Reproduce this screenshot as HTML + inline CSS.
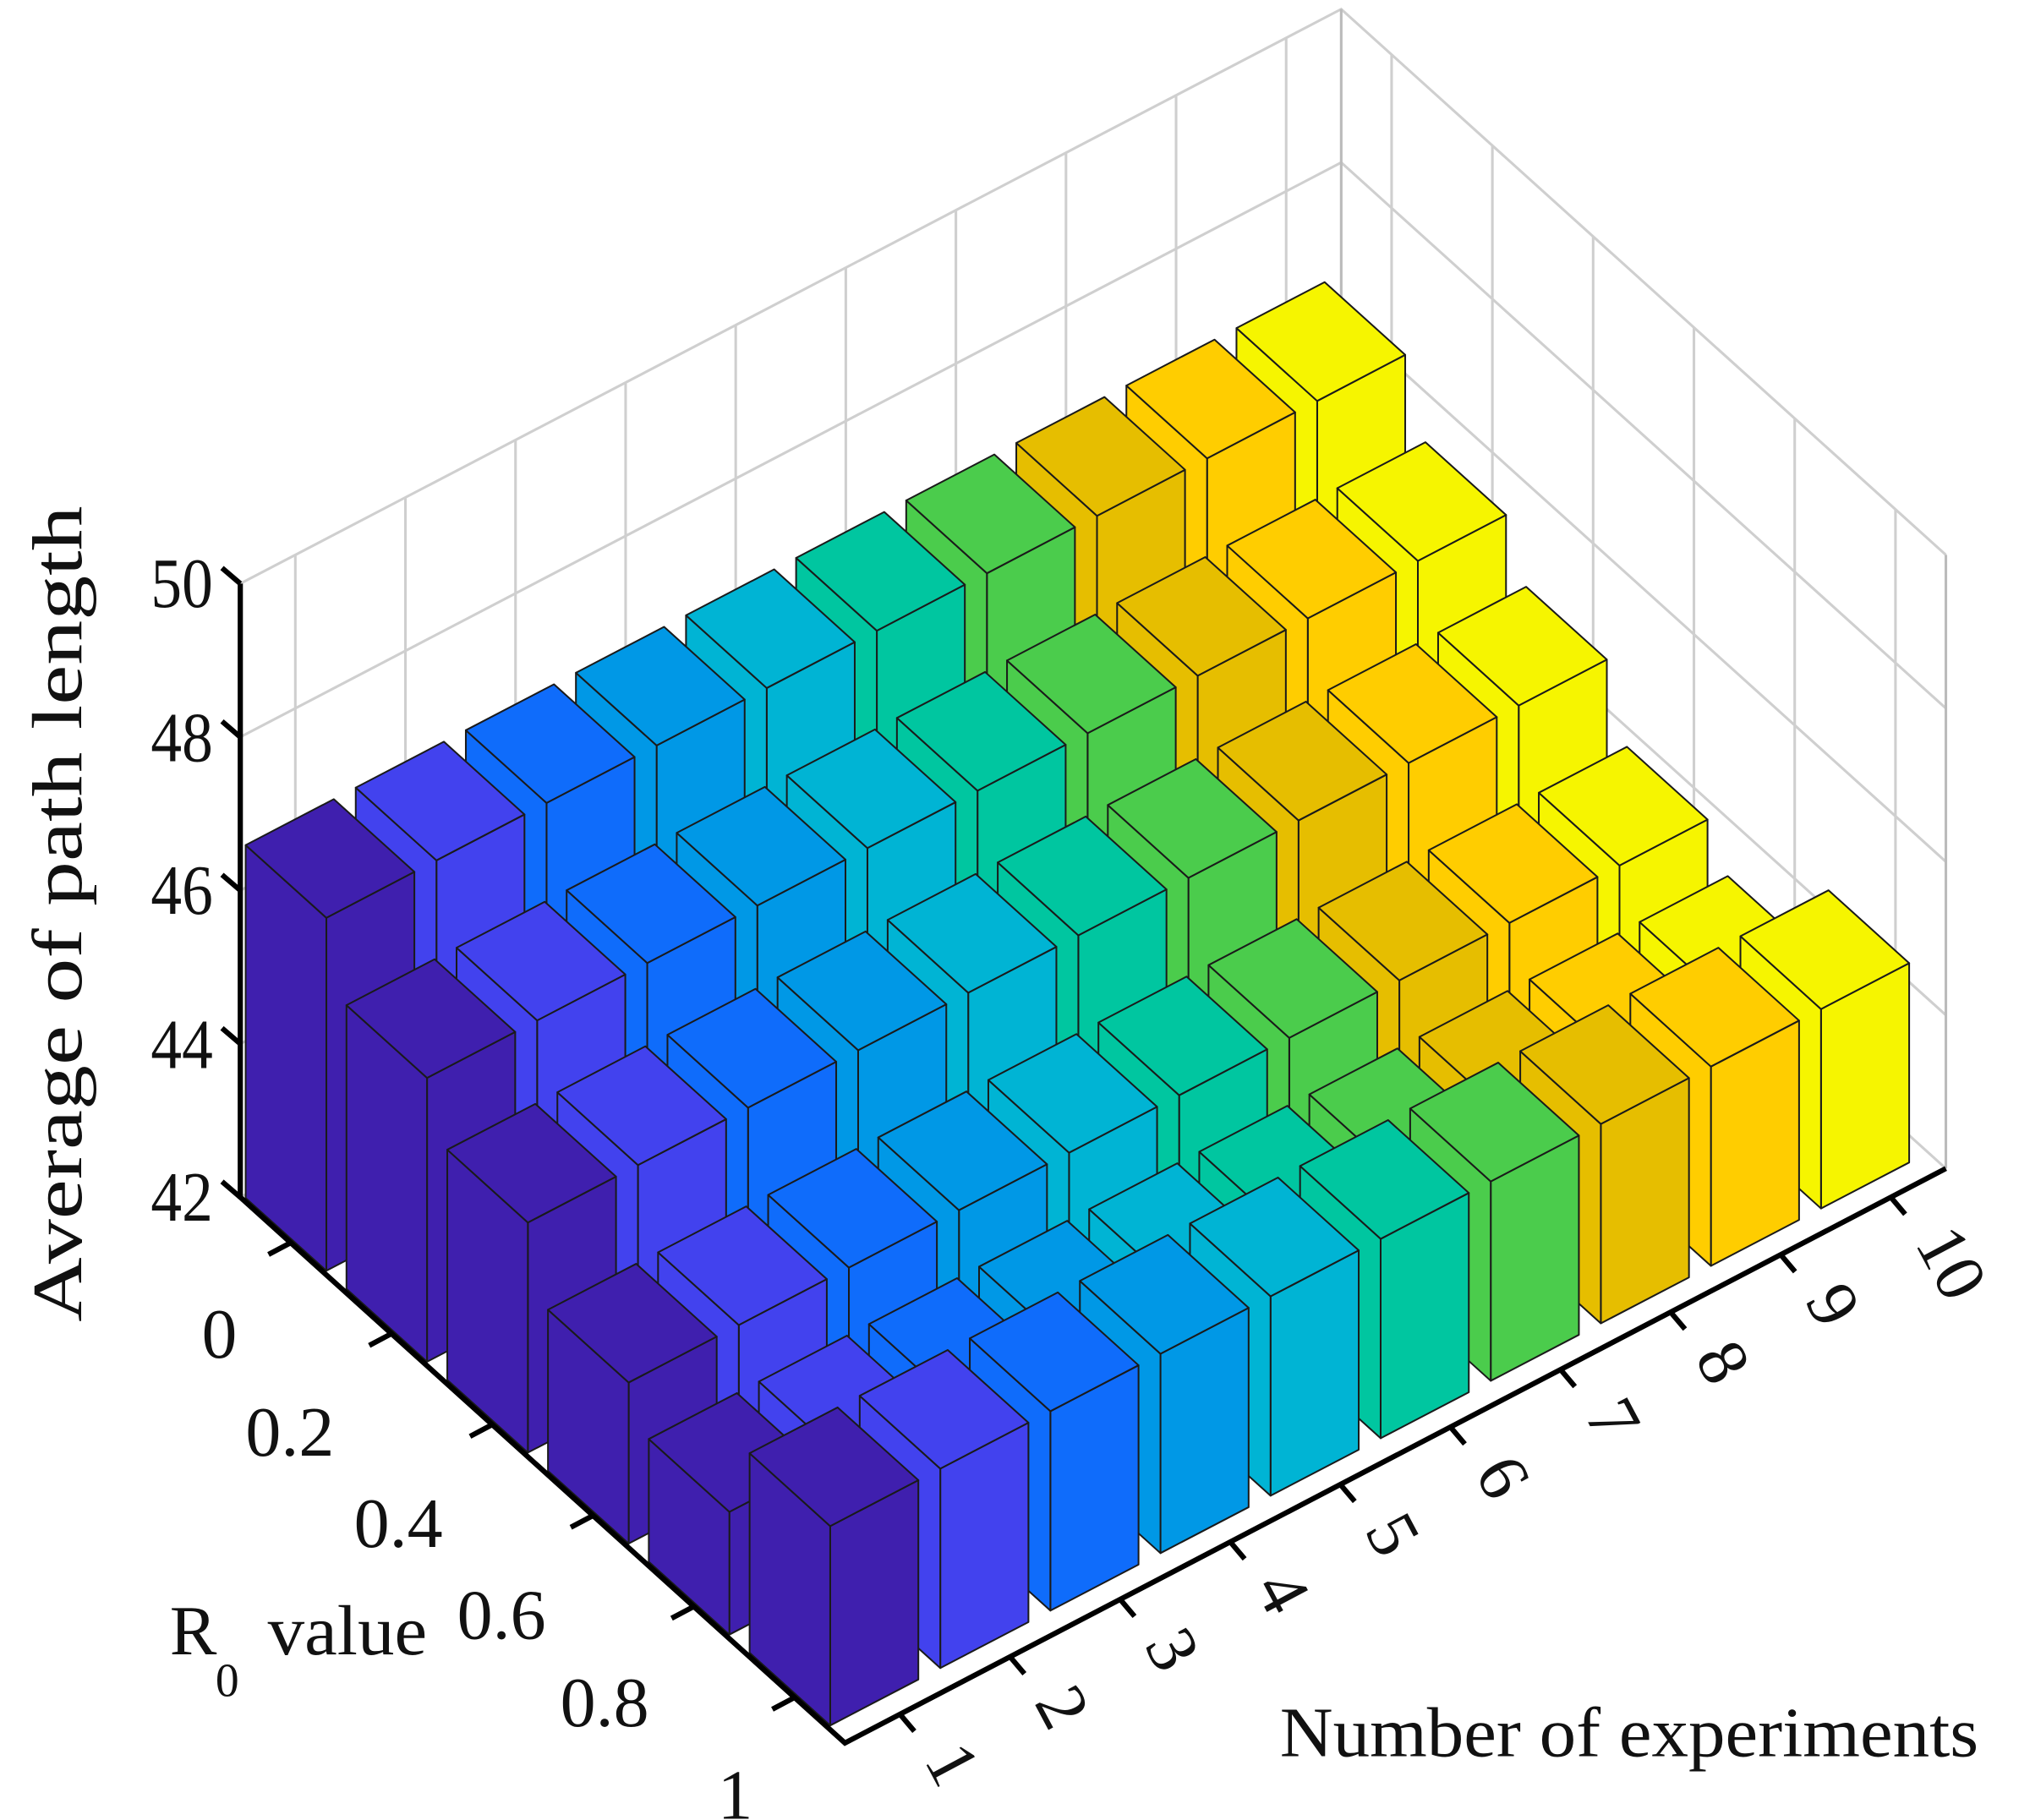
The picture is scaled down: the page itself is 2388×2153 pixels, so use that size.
<!DOCTYPE html>
<html><head><meta charset="utf-8"><style>html,body{margin:0;padding:0;background:#fff}svg{display:block}text{font-family:"Liberation Serif",serif}</style></head>
<body>
<svg id="s" width="2388" height="2153" viewBox="0 0 1546 1394" preserveAspectRatio="none" xmlns="http://www.w3.org/2000/svg">
<g transform="translate(-3,-5)">
<g id="grid"></g><g id="bars" transform="translate(-12,-2)"></g><g id="axes"></g>
</g>
<g font-size="54" fill="#111">
<g transform="translate(163,0) scale(0.88,1)">
<text x="0" y="465" text-anchor="end">50</text>
<text x="0" y="583" text-anchor="end">48</text>
<text x="0" y="700" text-anchor="end">46</text>
<text x="0" y="818" text-anchor="end">44</text>
<text x="0" y="935" text-anchor="end">42</text>
</g>
<text x="168" y="1040" text-anchor="middle">0</text>
<text x="222" y="1115" text-anchor="middle" textLength="68" lengthAdjust="spacingAndGlyphs">0.2</text>
<text x="305" y="1185" text-anchor="middle" textLength="68" lengthAdjust="spacingAndGlyphs">0.4</text>
<text x="384" y="1255" text-anchor="middle" textLength="68" lengthAdjust="spacingAndGlyphs">0.6</text>
<text x="463" y="1322" text-anchor="middle" textLength="68" lengthAdjust="spacingAndGlyphs">0.8</text>
<text x="563" y="1393" text-anchor="middle">1</text>
<text transform="translate(62,700) rotate(-90)" text-anchor="middle" font-size="54" textLength="625" lengthAdjust="spacingAndGlyphs">Average of path length</text>
<text x="130" y="1267" font-size="54">R</text><text x="165" y="1299" font-size="36">0</text>
<text x="205" y="1267" font-size="54" textLength="122" lengthAdjust="spacingAndGlyphs">value</text>
<text x="980" y="1345" font-size="54" textLength="535" lengthAdjust="spacingAndGlyphs">Number of experiments</text>
<g id="xl"></g>
</g>
</svg>
<script>
var L=[187,922],F=[650,1340],R=[1493,900],K=58.75;
function P(u,v,z){return [L[0]+u*(F[0]-L[0])+v*(R[0]-F[0]), L[1]+u*(F[1]-L[1])+v*(R[1]-F[1])-(z-42)*K];}
function pts(a){return a.map(function(p){return p[0].toFixed(1)+","+p[1].toFixed(1)}).join(" ");}
var ns="http://www.w3.org/2000/svg";
function add(g,tag,at){var e=document.createElementNS(ns,tag);for(var k in at)e.setAttribute(k,at[k]);document.getElementById(g).appendChild(e);return e;}
var gc="#cfcfcf";
for(var z=42;z<=50;z+=2){var a=P(0,0,z),b=P(0,1,z),c=P(1,1,z);add("grid","polyline",{points:pts([a,b,c]),fill:"none",stroke:gc,"stroke-width":2});}
for(var j=0;j<10;j++){var v=(j+0.5)/10;var a=P(0,v,42),b=P(0,v,50);add("grid","line",{x1:a[0],y1:a[1],x2:b[0],y2:b[1],stroke:gc,"stroke-width":2});}
for(var i=0;i<6;i++){var u=(i+0.5)/6;var a=P(u,1,42),b=P(u,1,50);add("grid","line",{x1:a[0],y1:a[1],x2:b[0],y2:b[1],stroke:gc,"stroke-width":2});}
[[0,0],[0,1],[1,1]].forEach(function(q){var a=P(q[0],q[1],42),b=P(q[0],q[1],50);add("grid","line",{x1:a[0],y1:a[1],x2:b[0],y2:b[1],stroke:"#bbb","stroke-width":2});});
var vals=[46.6,45.7,45.0,44.1,43.6,44.6];
var cols=["#3f1fae","#4242ee","#0f6cfb","#0098e6","#00b4d4","#00c6a0","#4bcc4c","#e6be00","#ffcd00","#f6f500"];
var list=[];for(var i=0;i<6;i++)for(var j=0;j<10;j++)list.push([i,j]);
list.sort(function(a,b){return (a[0]/6-a[1]/10)-(b[0]/6-b[1]/10);});
list.forEach(function(q){var i=q[0],j=q[1],h=vals[i];
var u0=(i+0.1)/6,u1=(i+0.9)/6,v0=(j+0.1)/10,v1=(j+0.9)/10,c=cols[j];
var st={stroke:"#1a1a1a","stroke-width":1.3,"stroke-linejoin":"round"};
function f(p,fill){var o={points:pts(p),fill:fill};for(var k in st)o[k]=st[k];add("bars","polygon",o);}
f([P(u1,v0,42),P(u1,v1,42),P(u1,v1,h),P(u1,v0,h)],c);
f([P(u0,v0,42),P(u1,v0,42),P(u1,v0,h),P(u0,v0,h)],c);
f([P(u0,v0,h),P(u1,v0,h),P(u1,v1,h),P(u0,v1,h)],c);
});
var A=P(0,0,42),B=P(1,0,42),C=P(1,1,42),T=P(0,0,50);
add("axes","polyline",{points:pts([T,A,B,C]),fill:"none",stroke:"#000","stroke-width":4});
for(var z=42;z<=50;z+=2){var p=P(0,0,z);add("axes","line",{x1:p[0],y1:p[1],x2:p[0]-14,y2:p[1]-12,stroke:"#000","stroke-width":4});}
for(var i=0;i<6;i++){var p=P((i+0.5)/6,0,42);add("axes","line",{x1:p[0],y1:p[1],x2:p[0]-17,y2:p[1]+9,stroke:"#000","stroke-width":4});}
for(var j=0;j<10;j++){var p=P(1,(j+0.5)/10,42);add("axes","line",{x1:p[0],y1:p[1],x2:p[0]+11,y2:p[1]+13,stroke:"#000","stroke-width":4});
var t=add("xl","text",{transform:"translate("+(p[0]+26)+","+(p[1]+24)+") rotate(62)","font-size":54,"dominant-baseline":"middle"});t.textContent=String(j+1);}
</script>
</body></html>
